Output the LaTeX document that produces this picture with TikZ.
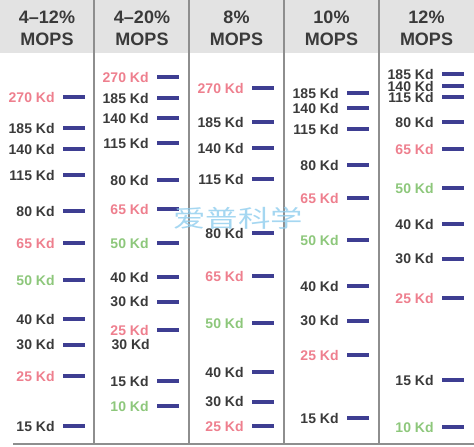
\documentclass[tikz,border=0pt]{standalone}
\usepackage{fontspec}
\setmainfont{Liberation Sans}
\newfontfamily\cjkfont{Noto Sans CJK SC}
\usetikzlibrary{positioning}

\definecolor{headgray}{HTML}{E3E3E3}
\definecolor{rulegray}{HTML}{8E8E8E}
\definecolor{txtgray}{HTML}{3A3A3A}
\definecolor{barblue}{HTML}{3E3E92}
\definecolor{kdpink}{HTML}{EE7F8E}
\definecolor{kdgreen}{HTML}{8DC77B}
\definecolor{wmblue}{HTML}{8FCDEE}

\begin{document}
\begin{tikzpicture}[x=1pt,y=-1pt,
    header/.style={font=\bfseries\fontsize{18}{22}\selectfont, text=txtgray, align=center, inner sep=0pt},
    bandbar/.style={fill=barblue, minimum width=22pt, minimum height=4pt, inner sep=0pt},
    kdlabel/.style={font=\bfseries\fontsize{14}{14}\selectfont, inner sep=0pt, left=8pt of #1},
    divider/.style={rulegray, line width=1.5pt}]

        \useasboundingbox (0,0) rectangle (474,447);

        % Grey header band
        \fill[headgray] (0,0) rectangle (474,53);

        % Column titles
        \node[header] (h1) at (47,28) {4--12\%\\MOPS};
        \node[header] (h2) at (142,28) {4--20\%\\MOPS};
        \node[header] (h3) at (236.5,28) {8\%\\MOPS};
        \node[header] (h4) at (331.5,28) {10\%\\MOPS};
        \node[header] (h5) at (426.5,28) {12\%\\MOPS};

        % Column dividers and bottom rule
        \foreach \x in {94,189,284,379}
            \draw[divider] (\x,0) -- (\x,444);
        \draw[rulegray, line width=1.2pt] (13,444) -- (474,444);

        % 4-12% MOPS
        \foreach \y/\kd/\c in {97/270/kdpink, 128/185/txtgray, 149/140/txtgray, 175/115/txtgray,
                211/80/txtgray, 243/65/kdpink, 280/50/kdgreen, 319/40/txtgray,
                345/30/txtgray, 376/25/kdpink, 426/15/txtgray} {
            \node[bandbar] (a\kd) at (74,\y) {};
            \node[kdlabel=a\kd, text=\c] (la\kd) {\kd\ Kd};
        }

        % 4-20% MOPS
        \foreach \y/\kd/\c in {77/270/kdpink, 98/185/txtgray, 118/140/txtgray, 143/115/txtgray,
                180/80/txtgray, 209/65/kdpink, 243/50/kdgreen, 277/40/txtgray,
                302/30/txtgray, 330/25/kdpink, 381/15/txtgray, 406/10/kdgreen} {
            \node[bandbar] (b\kd) at (168,\y) {};
            \node[kdlabel=b\kd, text=\c] (lb\kd) {\kd\ Kd};
        }
        % (extra label with no band)
        \coordinate (bx) at (158,345);
        \node[font=\bfseries\fontsize{14}{14}\selectfont, inner sep=0pt, text=txtgray,
            left=8pt of bx] (lbx) {30 Kd};

        % 8% MOPS
        \foreach \y/\kd/\c in {88/270/kdpink, 122/185/txtgray, 148/140/txtgray, 179/115/txtgray,
                233/80/txtgray, 276/65/kdpink, 323/50/kdgreen, 372/40/txtgray,
                402/30/txtgray, 426/25/kdpink} {
            \node[bandbar] (c\kd) at (263,\y) {};
            \node[kdlabel=c\kd, text=\c] (lc\kd) {\kd\ Kd};
        }

        % 10% MOPS
        \foreach \y/\kd/\c in {93/185/txtgray, 108/140/txtgray, 129/115/txtgray, 165/80/txtgray,
                198/65/kdpink, 240/50/kdgreen, 286/40/txtgray, 321/30/txtgray,
                355/25/kdpink, 418/15/txtgray} {
            \node[bandbar] (d\kd) at (358,\y) {};
            \node[kdlabel=d\kd, text=\c] (ld\kd) {\kd\ Kd};
        }

        % 12% MOPS
        \foreach \y/\kd/\c in {74/185/txtgray, 86/140/txtgray, 97/115/txtgray, 122/80/txtgray,
                149/65/kdpink, 188/50/kdgreen, 224/40/txtgray, 259/30/txtgray,
                298/25/kdpink, 380/15/txtgray, 427/10/kdgreen} {
            \node[bandbar] (e\kd) at (453,\y) {};
            \node[kdlabel=e\kd, text=\c] (le\kd) {\kd\ Kd};
        }

        % Watermark
        \node[text=wmblue, opacity=0.8, font=\cjkfont\fontsize{24}{24}\selectfont,
            xscale=1.35, inner sep=0pt] (wm) at (238,218) {爱普科学};

    \end{tikzpicture}
\end{document}
